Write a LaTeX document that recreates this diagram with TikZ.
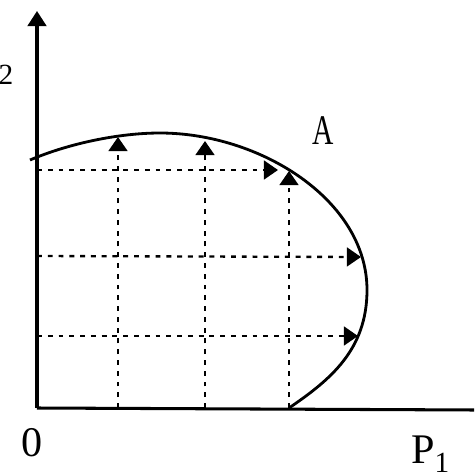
\documentclass[tikz,border=0pt]{standalone}
\usepackage{fontspec}
\setmainfont{Liberation Serif}
\usetikzlibrary{arrows.meta}
\newcommand\lowsub[1]{\raisebox{-7.7pt}{\fontsize{25}{25}\selectfont #1}}

\begin{document}
\begin{tikzpicture}[x=0.03cm, y=-0.03cm,
    axis/.style={line width=2.6pt},
    bound/.style={line width=2.4pt},
    gridline/.style={line width=2pt, dash pattern=on 4.2pt off 5pt, -{Triangle[length=12pt, width=16pt]}},
    label/.style={font=\fontsize{36}{38}\selectfont, inner sep=0pt}]
    \useasboundingbox (0,0) rectangle (474,474);
    \clip (0,0) rectangle (474,474);

    \coordinate (O) at (37,408);
    \coordinate (ytop) at (37,11);
    \coordinate (xend) at (476,410);

    \coordinate (b1) at (118,408);
    \coordinate (b2) at (205,408);
    \coordinate (b3) at (289,408);
    \coordinate (t1) at (118,137);
    \coordinate (t2) at (205,141);
    \coordinate (t3) at (289,171);

    \coordinate (l1) at (37,170);
    \coordinate (l2) at (37,256);
    \coordinate (l3) at (37,336);
    \coordinate (r1) at (278,170);
    \coordinate (r2) at (361,257);
    \coordinate (r3) at (358,336);

    \draw[axis, -{Triangle[length=13pt, width=16pt]}] (O) -- (ytop);
    \draw[axis] (O) -- (xend);

    \draw[bound] (30,160) .. controls (70,143) and (120,133) .. (160,133)
        .. controls (260,133) and (367,200) .. (367,290)
        .. controls (367,350) and (330,380) .. (289,408);

    \foreach \i in {1,2,3} {
        \draw[gridline] (b\i) -- (t\i);
        \draw[gridline] (l\i) -- (r\i);
    }

    \node[label] (zero) at (32,443) {0};
    \node[label, anchor=base west] (p1) at (411,463) {P\lowsub{1}};
    \node[label, anchor=base west] (p2) at (-25,75) {P\lowsub{2}};
    \node[label, xscale=0.7] (A) at (323,131) {A};
\end{tikzpicture}
\end{document}
